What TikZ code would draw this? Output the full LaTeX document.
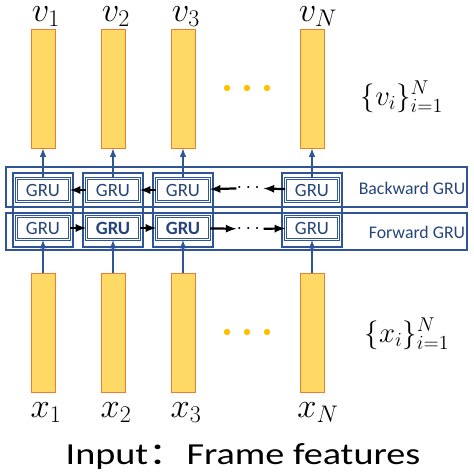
\documentclass[tikz,border=0pt]{standalone}
\usepackage{amsmath}
\usepackage{fontspec}
\setmainfont{Carlito}
\newfontfamily\cjk{Noto Sans CJK SC}
\usepackage{tikz}
\usetikzlibrary{positioning}
\definecolor{gblue}{HTML}{2F5597}
\definecolor{barfill}{HTML}{FFD966}
\definecolor{baredge}{HTML}{ED7D31}
\definecolor{dotc}{HTML}{FFC000}

\begin{document}
\begin{tikzpicture}[x=0.72pt, y=-0.72pt,
    bar/.style={draw=baredge, fill=barfill, line width=0.6pt, minimum width=17.3pt, minimum height=85.7pt, inner sep=0pt},
    gru/.style={draw=gblue, double=white, double distance=1.2pt, line width=0.6pt, fill=white, minimum width=38pt, minimum height=16.5pt, inner sep=0pt, font=\fontsize{13.5}{14}\selectfont, text=gblue!80!black},
    colbox/.style={draw=gblue, line width=0.8pt, minimum width=43.2pt, minimum height=53.3pt, inner sep=0pt},
    rowbox/.style={draw=gblue, line width=1pt, minimum width=331.9pt, inner sep=0pt},
    rowlbl/.style={font=\fontsize{12.8}{14}\selectfont, text=gblue!80!black, inner sep=0pt},
    lbl/.style={font=\fontsize{27}{28}\selectfont, inner sep=0pt},
    setlbl/.style={font=\fontsize{21}{24}\selectfont, inner sep=0pt},
    ydot/.style={circle, fill=dotc, inner sep=0pt, minimum size=4.6pt},
    up/.style={->, >=latex, gblue, line width=1.1pt},
    hor/.style={->, >=latex, black, line width=1.6pt}]
    \useasboundingbox (0,0) rectangle (474,474);

    % Cajas de filas
    \node[rowbox, minimum height=28.8pt] (brow) at (236.5,187) {};
    \node[rowbox, minimum height=26.6pt] (frow) at (236.5,231.5) {};
    \node[rowlbl] (blbl) at (412,188) {Backward GRU};
    \node[rowlbl] (flbl) at (417,232) {Forward GRU};

    % Columnas
    \node[colbox] (c1) at (43,210) {};
    \node[colbox] (c2) at (113,210) {};
    \node[colbox] (c3) at (183,210) {};
    \node[colbox] (cN) at (312,210) {};

    % Celdas GRU
    \node[gru] (b1) at (43,190) {GRU};
    \node[gru] (b2) at (113,190) {GRU};
    \node[gru] (b3) at (183,190) {GRU};
    \node[gru] (bN) at (312,190) {GRU};
    \node[gru] (f1) at (43,228) {GRU};
    \node[gru] (f2) at (113,228) {\textbf{GRU}};
    \node[gru] (f3) at (183,228) {\textbf{GRU}};
    \node[gru] (fN) at (312,228) {GRU};
    \node[inner sep=0pt, font=\Large] (bdots) at (250,188) {$\cdots$};
    \node[inner sep=0pt, font=\Large] (fdots) at (250,229) {$\cdots$};

    % Barras
    \node[bar] (v1) at (43,88.5) {};
    \node[bar] (v2) at (113,88.5) {};
    \node[bar] (v3) at (183,88.5) {};
    \node[bar] (vN) at (312,88.5) {};
    \node[bar] (x1) at (43,332.5) {};
    \node[bar] (x2) at (113,332.5) {};
    \node[bar] (x3) at (183,332.5) {};
    \node[bar] (xN) at (312,332.5) {};

    % Puntos
    \node[ydot] (vd1) at (227,88) {};
    \node[ydot] (vd2) at (247,88) {};
    \node[ydot] (vd3) at (267,88) {};
    \node[ydot] (xd1) at (227,332) {};
    \node[ydot] (xd2) at (247,332) {};
    \node[ydot] (xd3) at (267,332) {};

    % Etiquetas
    \node[lbl, anchor=base] (lv1) at (46,21) {$v_1$};
    \node[lbl, anchor=base] (lv2) at (116,21) {$v_2$};
    \node[lbl, anchor=base] (lv3) at (186,21) {$v_3$};
    \node[lbl, anchor=base] (lvN) at (318,21) {$v_N$};
    \node[lbl, anchor=base] (lx1) at (46,417) {$x_1$};
    \node[lbl, anchor=base] (lx2) at (116,417) {$x_2$};
    \node[lbl, anchor=base] (lx3) at (186,417) {$x_3$};
    \node[lbl, anchor=base] (lxN) at (318,417) {$x_N$};
    \node[setlbl] (vset) at (402,97) {$\{v_i\}_{i=1}^N$};
    \node[setlbl] (xset) at (407,334) {$\{x_i\}_{i=1}^N$};
    \node[font=\fontsize{22}{24}\selectfont] (cap) at (243,456) {\scalebox{1.25}[1]{Input{\cjk ：}Frame features}};

    % Flechas
    \draw[up] (x1) -- (f1);
    \draw[up] (x2) -- (f2);
    \draw[up] (x3) -- (f3);
    \draw[up] (xN) -- (fN);
    \draw[up] (b1) -- (v1);
    \draw[up] (b2) -- (v2);
    \draw[up] (b3) -- (v3);
    \draw[up] (bN) -- (vN);
    \draw[hor] (b2) -- (b1);
    \draw[hor] (b3) -- (b2);
    \draw[hor] (bdots) -- (b3);
    \draw[hor] (bN) -- (bdots);
    \draw[hor] (f1) -- (f2);
    \draw[hor] (f2) -- (f3);
    \draw[hor] (f3) -- (fdots);
    \draw[hor] (fdots) -- (fN);
\end{tikzpicture}
\end{document}
